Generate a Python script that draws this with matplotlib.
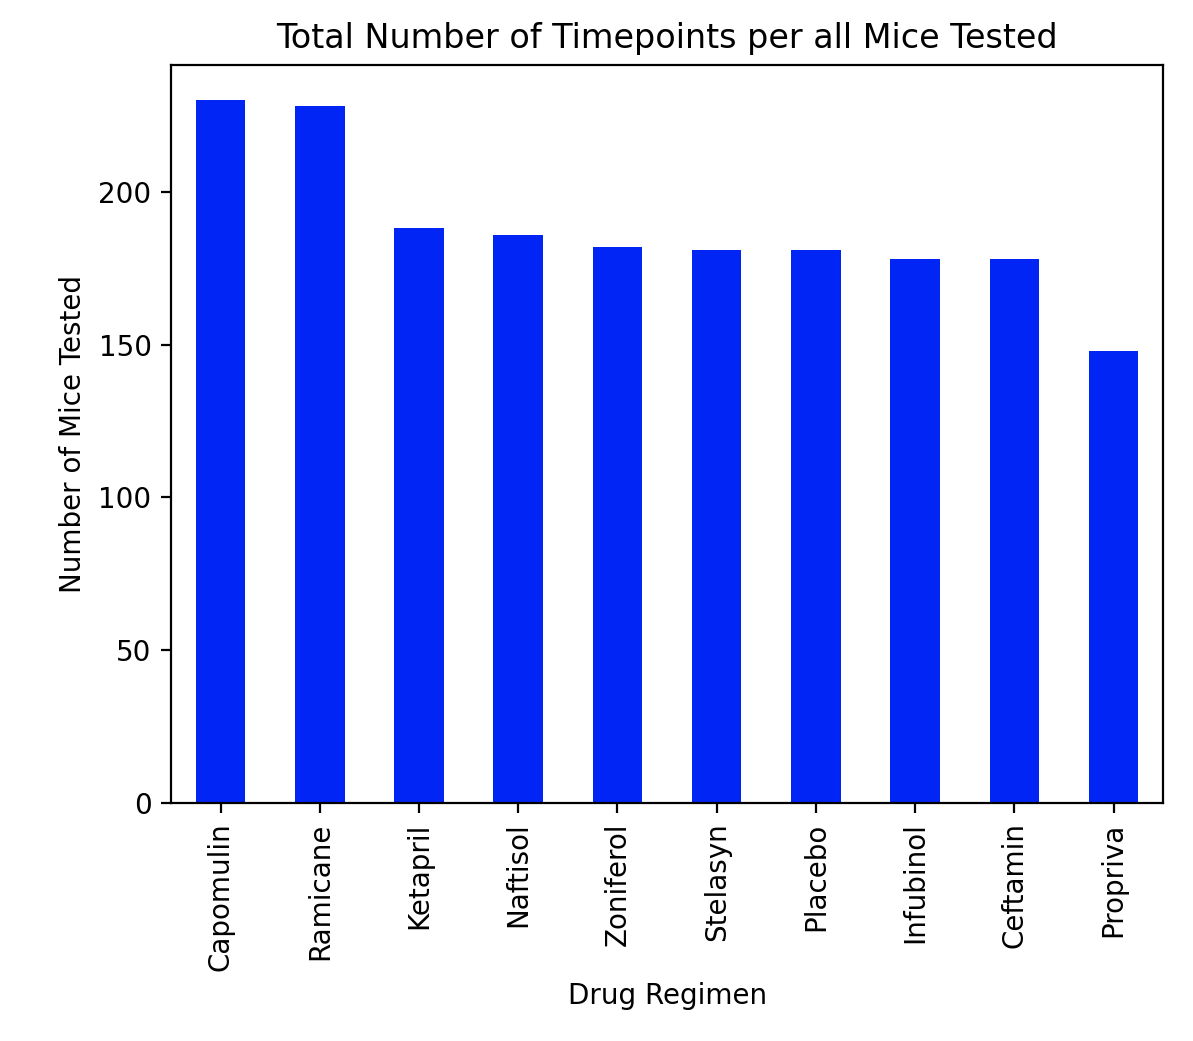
import matplotlib
matplotlib.use("Agg")
import matplotlib.pyplot as plt

# drug regimens and number of timepoints
regimens = ["Capomulin", "Ramicane", "Ketapril", "Naftisol", "Zoniferol",
            "Stelasyn", "Placebo", "Infubinol", "Ceftamin", "Propriva"]
counts = [230, 228, 188, 186, 182, 181, 181, 178, 178, 148]

fig = plt.figure(figsize=(5.965, 5.205), dpi=200)
ax = fig.add_axes([0.1433, 0.2286, 0.8317, 0.709])

x = range(len(regimens))
ax.bar(x, counts, width=0.5, color="#0025F5")
ax.set_xlim(-0.5, len(regimens) - 0.5)
ax.set_xticks(list(x))
ax.set_xticklabels(regimens, rotation=90)

ax.set_title("Total Number of Timepoints per all Mice Tested")
ax.set_xlabel("Drug Regimen")
ax.set_ylabel("Number of Mice Tested")

fig.savefig("out.png", dpi=200)
